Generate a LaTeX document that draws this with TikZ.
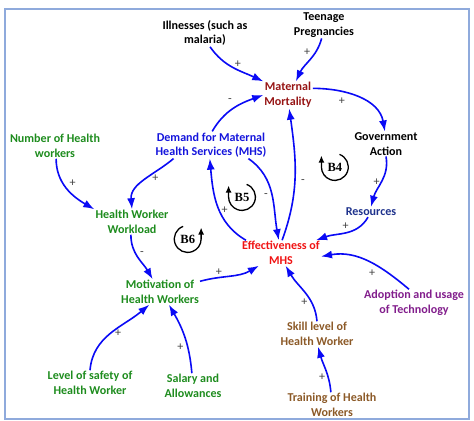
\documentclass[tikz,border=0pt]{standalone}
\usepackage{fontspec}
\setmainfont{Carlito}
\newfontfamily\loopfont{Liberation Serif}
\usetikzlibrary{arrows.meta}

\definecolor{linkblue}{RGB}{10,10,245}
\definecolor{framecol}{RGB}{143,170,220}
\definecolor{mortred}{RGB}{150,20,20}
\definecolor{effred}{RGB}{240,20,20}
\definecolor{demblue}{RGB}{20,20,220}
\definecolor{resblue}{RGB}{30,50,140}
\definecolor{hwgreen}{RGB}{30,140,30}
\definecolor{techpurple}{RGB}{130,30,140}
\definecolor{skillbrown}{RGB}{140,90,40}

\begin{document}
\begin{tikzpicture}[
	var/.style={font=\bfseries\fontsize{12}{14.5}\selectfont, align=center, inner sep=1pt},
	link/.style={draw=linkblue, line width=1.6pt, -{Latex[length=11pt,width=8pt]}},
	sign/.style={font=\fontsize{12}{12}\selectfont, text=black!75, inner sep=1.5pt},
	loopname/.style={font=\loopfont\bfseries\fontsize{12.5}{12.5}\selectfont, inner sep=0pt},
	looparc/.style={draw=black, line width=1.3pt, -{Latex[length=7pt,width=6pt]}}
]
	% Frame:
	\useasboundingbox (0, 0) rectangle (16.59, 14.735);
	\draw[framecol, line width=1.5pt] (0.175, 0.07) rectangle (16.415, 14.42);

	% Variables:
	\node[var] (illness) at (7.175, 13.58) {Illnesses (such as\\malaria)};
	\node[var] (teen) at (11.34, 13.86) {Teenage\\Pregnancies};
	\node[var, text=mortred] (mortality) at (10.08, 11.41) {Maternal\\Mortality};
	\node[var] (govt) at (13.51, 9.695) {Government\\Action};
	\node[var, text=demblue] (demand) at (7.385, 9.66) {Demand for Maternal\\Health Services (MHS)};
	\node[var, text=hwgreen] (numhw) at (1.925, 9.625) {Number of Health\\workers};
	\node[var, text=hwgreen] (workload) at (4.62, 6.965) {Health Worker\\Workload};
	\node[var, text=effred] (effect) at (9.835, 5.88) {Effectiveness of\\MHS};
	\node[var, text=resblue] (resources) at (12.985, 7.315) {Resources};
	\node[var, text=hwgreen] (motivation) at (5.6, 4.515) {Motivation of\\Health Workers};
	\node[var, text=techpurple] (adoption) at (14.49, 4.13) {Adoption and usage\\of Technology};
	\node[var, text=skillbrown] (skill) at (11.095, 3.045) {Skill level of\\Health Worker};
	\node[var, text=hwgreen] (safety) at (3.15, 1.33) {Level of safety of\\Health Worker};
	\node[var, text=hwgreen] (salary) at (6.755, 1.225) {Salary and\\Allowances};
	\node[var, text=skillbrown] (training) at (11.62, 0.56) {Training of Health\\Workers};

	% Loops:
	\node[loopname] (b4) at (11.72, 8.89) {B4};
	\node[loopname] (b5) at (8.47, 7.84) {B5};
	\node[loopname] (b6) at (6.57, 6.37) {B6};
	\draw[looparc] (b4.center) ++(70:0.47) arc (70:-180:0.47) -- ++(0, 0.4);
	\draw[looparc] (b5.center) ++(70:0.47) arc (70:-180:0.47) -- ++(0, 0.4);
	\draw[looparc] (b6.center) ++(110:0.47) arc (110:360:0.47) -- ++(0, 0.4);

	% Links:
	\draw[link] (illness.-70) to[out=-55, in=155] node[sign, pos=.58, above]{+} (mortality.north west);
	\draw[link] (teen.-100) to[out=-105, in=65] node[sign, pos=.3, left=3pt]{+} (mortality.60);
	\draw[link] (mortality.15) to[out=0, in=100] node[sign, pos=.3, below=4pt]{+} (govt.95);
	\draw[link] (govt.south) to[out=-80, in=75] node[sign, pos=.5, left]{+} (resources.north);
	\draw[link] (resources.-120) to[out=-120, in=20] node[sign, pos=.4, above left]{+} (effect.20);
	\draw[link] (adoption.110) to[out=140, in=10] node[sign, pos=.45, below=4pt]{+} (effect.-5);
	\draw[link] (skill.north) to[out=95, in=-60] node[sign, pos=.3, left=2pt]{+} (effect.-70);
	\draw[link] (training.95) to[out=95, in=-75] node[sign, pos=.3, left=1pt]{+} (skill.-85);
	\draw[link] (effect.85) to[out=70, in=-82] node[sign, pos=.45, right=4pt]{-} (mortality.-85);
	\draw[link] (demand.-20) to[out=-35, in=100] node[sign, pos=.52, left=2pt]{-} (effect.100);
	\draw[link] (effect.160) to[out=150, in=-85] node[sign, pos=.45, right=0pt]{+} (demand.-95);
	\draw[link] (demand.85) to[out=60, in=200] node[sign, pos=.55, above left=2pt]{-} (mortality.west);
	\draw[link] (numhw.-85) to[out=-90, in=150] node[sign, pos=.4, right=4pt]{+} (workload.north west);
	\draw[link] (demand.-160) to[out=-140, in=95] node[sign, pos=.45, right=3pt]{+} (workload.north);
	\draw[link] (workload.-95) to[out=-90, in=120] node[sign, pos=.4, right=2pt]{-} (motivation.120);
	\draw[link] (motivation.15) to[out=15, in=-150] node[sign, pos=.3, above=0pt]{+} (effect.-150);
	\draw[link] (safety.90) to[out=85, in=-140] node[sign, pos=.5, right=2pt]{+} (motivation.-130);
	\draw[link] (salary.95) to[out=95, in=-60] node[sign, pos=.35, left=2pt]{+} (motivation.-55);
\end{tikzpicture}
\end{document}
